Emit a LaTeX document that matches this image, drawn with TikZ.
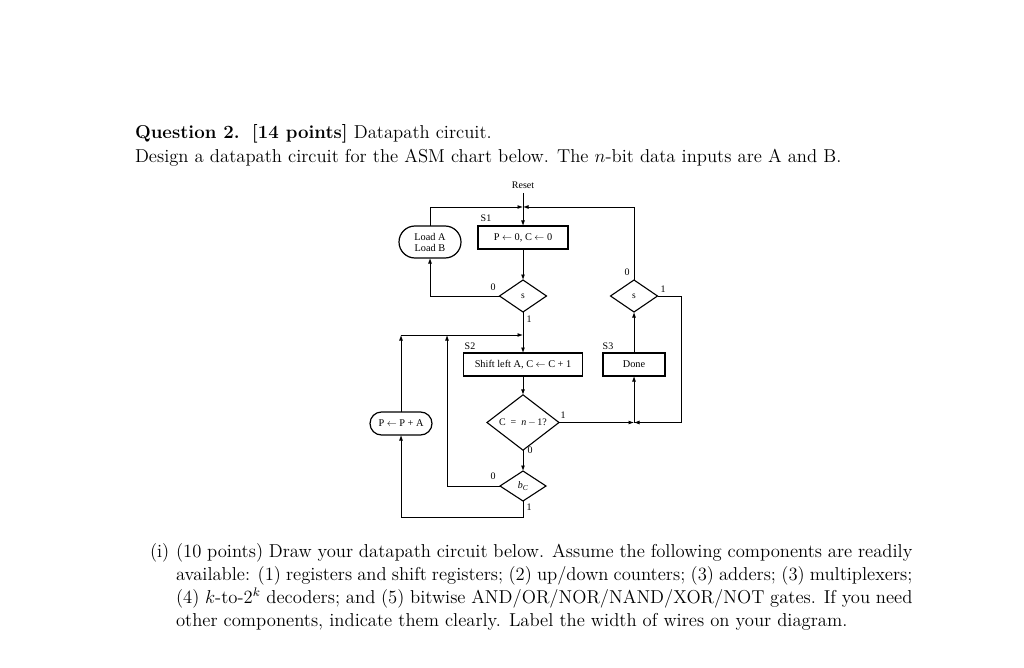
\documentclass[tikz,border=0pt]{standalone}
\usepackage{fontspec}
\newfontfamily\dfont{Liberation Serif}
\usetikzlibrary{shapes.geometric,arrows.meta}
\begin{document}
\begin{tikzpicture}[x=1pt,y=-1pt,
  every node/.style={inner sep=0pt,outer sep=0pt},
  arr/.style={line width=0.9pt,-{Latex[length=5.5pt,width=4pt]}},
  box/.style={draw,line width=1.2pt,font=\dfont\fontsize{10.3}{12}\selectfont,align=center},
  dia/.style={draw,diamond,line width=1.1pt,font=\dfont\fontsize{9.5}{11}\selectfont},
  lab/.style={font=\dfont\fontsize{10}{11}\selectfont},
  qtext/.style={anchor=base west,scale=1.555,font=\fontsize{12}{14.5}\selectfont}]
\useasboundingbox[fill=white] (0,0) rectangle (1024,668);

% ---- question text ----
\node[qtext] (q1) at (135,139) {\textbf{Question 2.}\ \ \textbf{[14 points]} Datapath circuit.};
\node[qtext] (q2) at (135,163) {Design a datapath circuit for the ASM chart below. The $n$-bit data inputs are A and B.};
\node[qtext] (qi) at (150,557) {(i)};
\node[qtext] (p1) at (176,557) {\makebox[473.6pt][s]{(10 points) Draw your datapath circuit below. Assume the following components are readily}};
\node[qtext] (p2) at (176,580) {\makebox[473.6pt][s]{available: (1) registers and shift registers; (2) up/down counters; (3) adders; (3) multiplexers;}};
\node[qtext] (p3) at (176,603) {\makebox[473.6pt][s]{(4) $k$-to-$2^k$ decoders; and (5) bitwise AND/OR/NOR/NAND/XOR/NOT gates. If you need}};
\node[qtext] (p4) at (176,626) {other components, indicate them clearly. Label the width of wires on your diagram.};

% ---- ASM chart nodes ----
\node[lab,anchor=base] (reset) at (523,189) {Reset};
\node[box,minimum width=90pt,minimum height=23pt] (s1) at (523,237.5) {P $\leftarrow$ 0, C $\leftarrow$ 0};
\node[box,rounded corners=16pt,minimum width=62pt,minimum height=32pt,font=\dfont\fontsize{10.3}{11}\selectfont] (load) at (430,242) {Load A\\Load B};
\node[dia,minimum width=47pt,minimum height=32pt] (d1) at (523,296) {s};
\node[dia,minimum width=47pt,minimum height=32pt] (d3) at (634,296) {s};
\node[box,minimum width=119pt,minimum height=23pt] (s2) at (523,364.5) {Shift left A, C $\leftarrow$ C + 1};
\node[box,minimum width=62pt,minimum height=23pt] (s3) at (634,364.5) {Done};
\node[dia,minimum width=72pt,minimum height=47pt,font=\dfont\fontsize{10}{11}\selectfont] (dc) at (523,422.5) {C\enspace=\enspace\textit{n}\,$-$\,1?};
\node[dia,minimum width=46pt,minimum height=30pt,font=\dfont\fontsize{10}{11}\selectfont] (db) at (523,486) {\textit{b}\raisebox{-2pt}{\fontsize{7.5}{8}\selectfont\textit{C}}};
\node[box,rounded corners=11.5pt,minimum width=62pt,minimum height=23pt] (ppa) at (401,423.5) {P $\leftarrow$ P + A};

% state labels
\node[lab] (l1) at (486,218) {S1};
\node[lab] (l2) at (470,346) {S2};
\node[lab] (l3) at (608,346) {S3};

% junctions
\coordinate (j1) at (523,207);
\coordinate (j2) at (523,335);
\coordinate (j3) at (634,422.5);
\coordinate (c1) at (401,335);
\coordinate (c2) at (447,335);
\coordinate (c3) at (681,296);
\coordinate (r0) at (523,193);

% ---- connectors ----
\draw[arr] (r0) -- (s1.north);
\draw[arr] (load.north) |- (j1);
\draw[arr] (d3.north) |- (j1);
\draw[arr] (s1.south) -- (d1.north);
\draw[arr] (d1.west) -| (load.south);
\draw[arr] (d1.south) -- (s2.north);
\draw[arr] (ppa.north) -- (c1);
\draw[arr] (c1) -- (j2);
\draw[arr] (db.west) -| (c2);
\draw[arr] (s2.south) -- (dc.north);
\draw[arr] (dc.south) -- (db.north);
\draw[arr] (db.south) |- (401,517) -- (ppa.south);
\draw[arr] (dc.east) -- (j3);
\draw[arr] (d3.east) -- (c3) |- (j3);
\draw[arr] (j3) -- (s3.south);
\draw[arr] (s3.north) -- (d3.south);

% branch labels
\node[lab] (b1) at (493,287) {0};
\node[lab] (b2) at (529,319) {1};
\node[lab] (b3) at (627,272) {0};
\node[lab] (b4) at (663,289) {1};
\node[lab] (b5) at (563,415) {1};
\node[lab] (b6) at (530,450) {0};
\node[lab] (b7) at (493,476) {0};
\node[lab] (b8) at (529,507) {1};
\end{tikzpicture}
\end{document}
